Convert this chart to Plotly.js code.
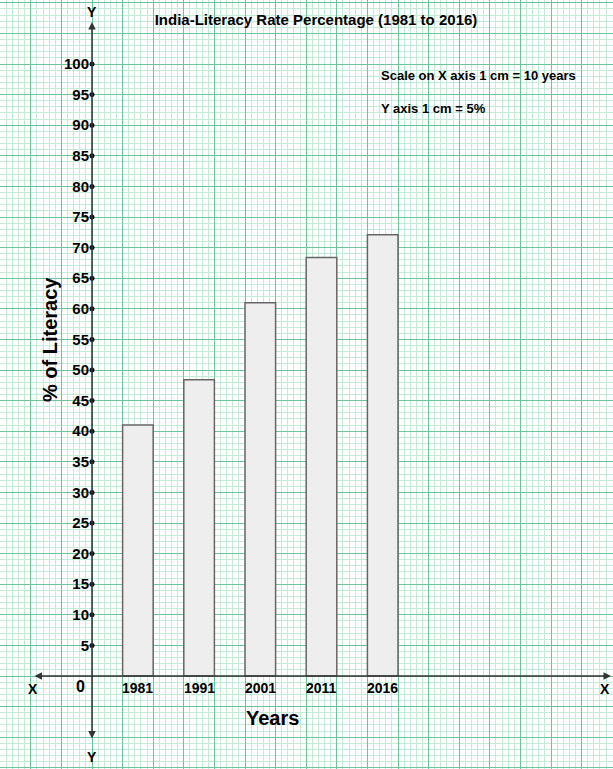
<!DOCTYPE html>
<html>
<head>
<meta charset="utf-8">
<script src="https://cdn.plot.ly/plotly-3.0.1.min.js"></script>
<style>html,body{margin:0;padding:0;background:#fff;}#chart{width:613px;height:769px;}</style>
</head>
<body>
<div id="chart"></div>
<script>
// Data
const years = ['1981', '1991', '2001', '2011', '2016'];
const literacy = [41, 48.4, 61, 68.4, 72.1];
const yTicks = [5, 10, 15, 20, 25, 30, 35, 40, 45, 50, 55, 60, 65, 70, 75, 80, 85, 90, 95, 100];

const W = 613, H = 769;
const originX = 92, originY = 676;
const pxPerCm = 30.6;            // 1 cm on the graph paper
const pxPerPct = pxPerCm / 5;    // Y axis: 1 cm = 5%

// x axis in cm units; each year bar is 1 cm wide, centred on odd half-cm positions
const barPos = years.map((_, i) => 1.5 + 2 * i);

const xRange = [-originX / pxPerCm, (W - originX) / pxPerCm];
const yRange = [(originY - H) / pxPerPct, originY / pxPerPct];

// major gridlines (every 5%) over the whole visible range; labels only on yTicks
const yGrid = [];
for (let v = Math.ceil(yRange[0] / 5) * 5; v <= yRange[1]; v += 5) yGrid.push(v);
const yGridText = yGrid.map(v => yTicks.includes(v) ? String(v) : '');

const FONT = 'Liberation Sans, Arial, sans-serif';
const boldFont = (size) => ({family: FONT, size: size, color: '#000', weight: 'bold'});
const axisColor = '#333';
const majorGrid = '#6cc49c';
const minorGrid = '#c4ead8';

const traces = [
  {
    type: 'bar',
    x: barPos,
    y: literacy,
    width: 1,
    marker: {color: '#eeeeee', line: {color: '#666666', width: 1.5}},
    showlegend: false
  },
  {
    type: 'scatter',
    mode: 'markers',
    x: yTicks.map(() => 0),
    y: yTicks,
    marker: {color: '#111', size: 5},
    showlegend: false,
    cliponaxis: false
  }
];

const annotations = [
  // Y axis line with arrows at both ends
  {x: 0, y: (originY - 22) / pxPerPct, ax: 0, ay: (originY - 740) / pxPerPct,
   xref: 'x', yref: 'y', axref: 'x', ayref: 'y', text: '', showarrow: true,
   arrowhead: 2, arrowside: 'end+start', arrowsize: 1, arrowwidth: 1.5, arrowcolor: axisColor},
  // X axis line with arrows at both ends
  {x: (611 - originX) / pxPerCm, y: 0, ax: (33 - originX) / pxPerCm, ay: 0,
   xref: 'x', yref: 'y', axref: 'x', ayref: 'y', text: '', showarrow: true,
   arrowhead: 2, arrowside: 'end+start', arrowsize: 1, arrowwidth: 1.5, arrowcolor: axisColor},
  {text: 'Y', x: originX / W, y: 1 - 12 / H, xref: 'paper', yref: 'paper', showarrow: false, font: boldFont(14), xanchor: 'center', yanchor: 'middle'},
  {text: 'Y', x: originX / W, y: 1 - 757 / H, xref: 'paper', yref: 'paper', showarrow: false, font: boldFont(14), xanchor: 'center', yanchor: 'middle'},
  {text: 'X', x: 33 / W, y: 1 - 689 / H, xref: 'paper', yref: 'paper', showarrow: false, font: boldFont(14), xanchor: 'center', yanchor: 'middle'},
  {text: 'X', x: 605 / W, y: 1 - 689 / H, xref: 'paper', yref: 'paper', showarrow: false, font: boldFont(14), xanchor: 'center', yanchor: 'middle'},
  {text: '0', x: 80 / W, y: 1 - 686 / H, xref: 'paper', yref: 'paper', showarrow: false, font: boldFont(16), xanchor: 'center', yanchor: 'middle'},
  {text: 'Years', x: 272 / W, y: 1 - 718 / H, xref: 'paper', yref: 'paper', showarrow: false, font: boldFont(20), xanchor: 'center', yanchor: 'middle'},
  {text: '% of Literacy', x: 50 / W, y: 1 - 340 / H, xref: 'paper', yref: 'paper', showarrow: false, font: boldFont(20), textangle: -90, xanchor: 'center', yanchor: 'middle'},
  {text: 'Scale on X axis 1 cm = 10 years', x: 379 / W, y: 1 - 75 / H, xref: 'paper', yref: 'paper', showarrow: false, font: boldFont(13), xanchor: 'left', yanchor: 'middle'},
  {text: 'Y axis 1 cm = 5%', x: 379 / W, y: 1 - 108 / H, xref: 'paper', yref: 'paper', showarrow: false, font: boldFont(13), xanchor: 'left', yanchor: 'middle'}
];
// year labels under each bar, placed through the data scales
years.forEach((yr, i) => annotations.push({
  text: yr, x: barPos[i], y: 0, xref: 'x', yref: 'y', showarrow: false,
  font: boldFont(14), xanchor: 'center', yanchor: 'top', yshift: -2
}));

const layout = {
  width: W,
  height: H,
  margin: {l: 0, r: 0, t: 0, b: 0, pad: 0},
  paper_bgcolor: '#fff',
  plot_bgcolor: '#fff',
  showlegend: false,
  title: {
    text: 'India-Literacy Rate Percentage (1981 to 2016)',
    font: boldFont(15),
    x: 316 / W, xanchor: 'center',
    y: 1 - 20 / H, yanchor: 'middle', yref: 'container'
  },
  xaxis: {
    range: xRange,
    tickmode: 'linear', tick0: 0, dtick: 1,
    showgrid: true, gridcolor: majorGrid, gridwidth: 1,
    minor: {tickmode: 'linear', tick0: 0, dtick: 0.2, showgrid: true, gridcolor: minorGrid, gridwidth: 1},
    showticklabels: false, ticks: '', zeroline: false, showline: false,
    fixedrange: true
  },
  yaxis: {
    range: yRange,
    anchor: 'free',
    position: originX / W,
    side: 'left',
    tickmode: 'array',
    tickvals: yGrid,
    ticktext: yGridText,
    ticks: '',
    ticklabelstandoff: 3,
    tickfont: boldFont(15),
    showgrid: true, gridcolor: majorGrid, gridwidth: 1,
    minor: {tickmode: 'linear', tick0: 0, dtick: 1, showgrid: true, gridcolor: minorGrid, gridwidth: 1},
    zeroline: false, showline: false,
    fixedrange: true
  },
  annotations: annotations
};

Plotly.newPlot('chart', traces, layout, {displayModeBar: false, staticPlot: true});
</script>
</body>
</html>
